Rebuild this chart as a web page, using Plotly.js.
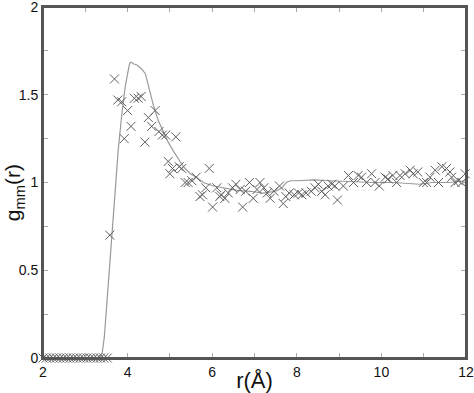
<!DOCTYPE html>
<html>
<head>
<meta charset="utf-8">
<script src="https://cdn.plot.ly/plotly-3.0.1.min.js"></script>
<style>html,body{margin:0;padding:0;background:#fff;}#chart{width:474px;height:393px;}</style>
</head>
<body>
<div id="chart"></div>
<script>
// Simulation points (crosses)
const rSim = [2.00,2.08,2.16,2.24,2.32,2.40,2.48,2.56,2.64,2.72,2.80,2.88,2.96,3.04,3.12,3.20,3.28,3.36,3.44,3.52,
  3.58,3.69,3.77,3.86,3.92,4.00,4.08,4.16,4.25,4.32,4.41,4.49,4.57,4.65,4.74,4.82,4.90,4.96,5.00,5.06,
  5.14,5.22,5.28,5.36,5.43,5.52,5.62,5.71,5.77,5.85,5.93,6.01,6.11,6.18,6.21,6.30,6.38,6.48,6.56,6.66,
  6.72,6.79,6.88,6.97,7.06,7.13,7.22,7.30,7.37,7.46,7.59,7.68,7.74,7.82,7.94,8.04,8.12,8.22,8.34,8.43,
  8.51,8.59,8.67,8.74,8.83,8.90,8.96,9.10,9.22,9.34,9.45,9.53,9.65,9.77,9.85,9.95,10.09,10.16,10.27,10.36,
  10.44,10.56,10.68,10.75,10.86,10.99,11.07,11.15,11.27,11.35,11.43,11.54,11.62,11.66,11.74,11.82,11.90,11.98];
const gSim = [0,0,0,0,0,0,0,0,0,0,0,0,0,0,0,0,0,0,0,0,
  0.70,1.59,1.47,1.46,1.25,1.41,1.32,1.48,1.48,1.49,1.23,1.37,1.32,1.41,1.29,1.27,1.27,1.12,1.05,1.08,
  1.26,1.09,1.08,1.00,1.00,1.01,1.03,0.92,0.93,0.97,1.08,0.86,0.97,0.92,0.93,0.91,0.94,0.97,0.99,0.96,
  0.86,0.95,1.00,0.91,0.96,1.00,0.97,0.94,0.91,0.95,0.98,0.88,0.92,0.94,0.93,0.94,0.93,0.94,0.95,0.97,
  0.99,0.95,0.93,0.98,0.99,0.98,0.90,0.98,1.04,1.00,1.04,1.03,1.00,1.05,1.00,0.98,1.03,1.02,1.04,1.00,
  1.04,1.05,1.07,1.05,1.06,1.00,1.00,1.03,1.07,1.00,1.09,1.08,1.06,1.03,1.00,1.01,1.00,1.05];

// Reference curve (solid line)
const rRef = [2.0,3.33,3.40,3.45,3.50,3.61,3.70,3.78,3.86,3.94,4.00,4.05,4.08,4.15,4.22,4.32,4.42,4.50,4.61,4.73,
  4.84,4.96,5.08,5.16,5.32,5.48,5.63,5.79,6.03,6.26,6.58,6.90,7.20,7.50,7.65,7.75,7.85,8.00,8.40,8.80,
  9.30,9.80,10.30,10.60,10.90,11.20,11.60,12.00];
const gRef = [0,0,0.03,0.12,0.28,0.62,0.93,1.19,1.38,1.54,1.62,1.68,1.685,1.675,1.67,1.65,1.62,1.54,1.44,1.35,
  1.29,1.23,1.18,1.15,1.09,1.05,1.03,1.00,0.98,0.97,0.955,0.95,0.94,0.95,0.97,1.00,1.01,1.01,1.015,1.01,
  1.005,1.00,1.00,0.995,0.99,1.00,1.00,1.01];

const xTickVals = [2,4,6,8,10,12];
const yTickVals = [0,0.5,1,1.5,2];

const traces = [
  {x: rRef, y: gRef, type:'scatter', mode:'lines', line:{color:'#9a9a9a', width:1.2}, hoverinfo:'skip', cliponaxis:false},
  {x: rSim, y: gSim, type:'scatter', mode:'markers', cliponaxis:false,
   marker:{symbol:'x-thin-open', size:9, color:'#5f5f5f', line:{color:'#5f5f5f', width:1}}}
];

const axisFont = {family:'Liberation Sans, Arial, sans-serif', size:14, color:'#111'};
const layout = {
  width:474, height:393,
  margin:{l:43, r:8, t:7, b:35},
  paper_bgcolor:'#fff', plot_bgcolor:'#fff',
  showlegend:false,
  xaxis:{range:[2,12], tickvals:xTickVals, ticks:'inside', ticklen:5, tickcolor:'#aaa', tickwidth:1,
    minor:{dtick:1, tick0:2, ticks:'inside', ticklen:5, tickcolor:'#aaa'},
    showline:true, linecolor:'#555', linewidth:2, mirror:'ticks', showgrid:false, zeroline:false,
    tickfont:axisFont, ticklabeloverflow:'allow',
    title:{text:'r(Å)', font:{family:'Liberation Sans, Arial, sans-serif', size:22, color:'#111'}, standoff:3}},
  yaxis:{range:[0,2], tickvals:yTickVals, ticks:'inside', ticklen:5, tickcolor:'#aaa', tickwidth:1,
    minor:{dtick:0.25, tick0:0, ticks:'inside', ticklen:5, tickcolor:'#aaa'},
    showline:true, linecolor:'#555', linewidth:2, mirror:'ticks', showgrid:false, zeroline:false,
    tickfont:axisFont, ticklabeloverflow:'allow'},
  shapes:[{type:'rect', xref:'paper', yref:'paper', x0:0, x1:1, y0:0, y1:1, line:{color:'#555', width:2}, layer:'above'}],
  annotations:[{text:'g<sub>mm</sub>(r)', textangle:-90, xref:'paper', yref:'paper', x:-0.068, y:0.47,
    xanchor:'center', yanchor:'middle', showarrow:false,
    font:{family:'Liberation Sans, Arial, sans-serif', size:21, color:'#111'}}]
};

Plotly.newPlot('chart', traces, layout, {displayModeBar:false, staticPlot:true});
</script>
</body>
</html>
